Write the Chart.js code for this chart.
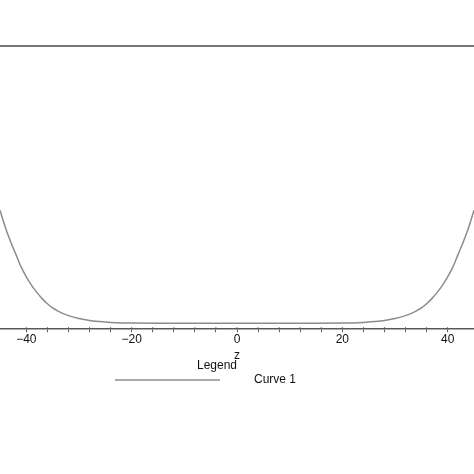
<!DOCTYPE html>
<html>
<head>
<meta charset="utf-8">
<script src="https://cdn.jsdelivr.net/npm/chart.js@4.4.0/dist/chart.umd.min.js"></script>
<style>
  html, body { margin: 0; padding: 0; background: #ffffff; }
  #wrap { width: 474px; height: 474px; }
</style>
</head>
<body>
<div id="wrap"><canvas id="curveChart" width="474" height="474"></canvas></div>
<script>
// values
const zValues = [-45, -44, -43, -42, -41, -40, -39, -38, -37, -36, -35, -34, -33, -32, -30, -28, -26, -24, -22, -20, -15, -10, -5,
                 0, 5, 10, 15, 20, 22, 24, 26, 28, 30, 32, 33, 34, 35, 36, 37, 38, 39, 40, 41, 42, 43, 44, 45];
const curveValues = [0.42, 0.36, 0.31, 0.265, 0.22, 0.185, 0.155, 0.13, 0.108, 0.09, 0.075, 0.064, 0.055, 0.048, 0.038, 0.031, 0.027, 0.024, 0.022, 0.0215, 0.021, 0.021, 0.021,
                     0.021, 0.021, 0.021, 0.021, 0.0215, 0.022, 0.024, 0.027, 0.031, 0.038, 0.048, 0.055, 0.064, 0.075, 0.09, 0.108, 0.13, 0.155, 0.185, 0.22, 0.265, 0.31, 0.36, 0.42];
const topLineZ = [-45, 45];
const topLineValues = [1.0, 1.0];
const tickLabels = [-40, -20, 0, 20, 40];
const curveLabel = 'Curve 1';
const legendTitle = 'Legend';
const axisTitle = 'z';

const CURVE_COLOR = '#8c8c8c';
const TOP_COLOR = '#777777';
const AXIS_COLOR = '#5a5a5a';
const FONT = 'Liberation Sans, Arial, Helvetica, sans-serif';

const curvePoints = zValues.map((z, i) => ({x: z, y: curveValues[i]}));
const topPoints = topLineZ.map((z, i) => ({x: z, y: topLineValues[i]}));

// draws the tick marks above the axis line too (they cross the axis)
const crossTicks = {
  id: 'crossTicks',
  afterDraw(chart) {
    const sc = chart.scales.x;
    const c = chart.ctx;
    c.save();
    c.strokeStyle = AXIS_COLOR;
    c.lineWidth = 1;
    sc.ticks.forEach(t => {
      const px = sc.getPixelForValue(t.value);
      c.beginPath();
      c.moveTo(px, sc.top - 2);
      c.lineTo(px, sc.top);
      c.stroke();
    });
    c.restore();
  }
};

// little legend box under the axis
const maplelegend = {
  id: 'maplelegend',
  afterDraw(chart, args, opts) {
    const c = chart.ctx;
    const ds = chart.data.datasets[0];
    c.save();
    c.font = '12px ' + FONT;
    c.fillStyle = '#111111';
    c.textBaseline = 'middle';
    c.textAlign = 'center';
    c.fillText(legendTitle, opts.titleX, opts.titleY);
    c.strokeStyle = ds.borderColor;
    c.lineWidth = ds.borderWidth;
    c.beginPath();
    c.moveTo(opts.lineX0, opts.itemY);
    c.lineTo(opts.lineX1, opts.itemY);
    c.stroke();
    c.textAlign = 'left';
    c.fillText(ds.label, opts.textX, opts.itemY);
    c.restore();
  }
};

var ctx = document.getElementById('curveChart').getContext('2d');
const curveChart = new Chart(ctx, {
  type: 'line',
  data: {
    datasets: [{
      label: curveLabel,
      data: curvePoints,
      borderColor: CURVE_COLOR,
      borderWidth: 1.5,
      cubicInterpolationMode: 'monotone',
      pointRadius: 0,
      fill: false
    }, {
      label: 'top',
      data: topPoints,
      borderColor: TOP_COLOR,
      borderWidth: 2,
      pointRadius: 0,
      fill: false
    }]
  },
  plugins: [crossTicks, maplelegend],
  options: {
    responsive: false,
    animation: false,
    layout: {
      padding: { top: 0, left: 0, right: 0, bottom: 111 }
    },
    plugins: {
      legend: { display: false },
      tooltip: { enabled: false },
      maplelegend: { titleX: 217, titleY: 366, lineX0: 115, lineX1: 220, itemY: 380, textX: 254 }
    },
    scales: {
      x: {
        type: 'linear',
        min: -45,
        max: 45,
        afterBuildTicks: (scale) => {
          scale.ticks = scale.ticks.filter(t => t.value % 4 === 0);
        },
        grid: {
          drawOnChartArea: false,
          drawTicks: true,
          tickLength: 3,
          tickColor: AXIS_COLOR
        },
        border: { color: AXIS_COLOR, width: 1.5 },
        ticks: {
          stepSize: 4,
          padding: 0,
          maxRotation: 0,
          autoSkip: false,
          color: '#111111',
          font: { family: FONT, size: 12 },
          callback: function(val) {
            if (tickLabels.indexOf(val) < 0) return '';
            return val < 0 ? '\u2212' + Math.abs(val) : String(val);
          }
        },
        title: {
          display: true,
          text: axisTitle,
          color: '#111111',
          font: { family: FONT, size: 12 },
          padding: { top: 2, bottom: 0 }
        }
      },
      y: {
        type: 'linear',
        display: false,
        min: 0,
        max: 1.1625
      }
    }
  }
});
</script>
</body>
</html>
